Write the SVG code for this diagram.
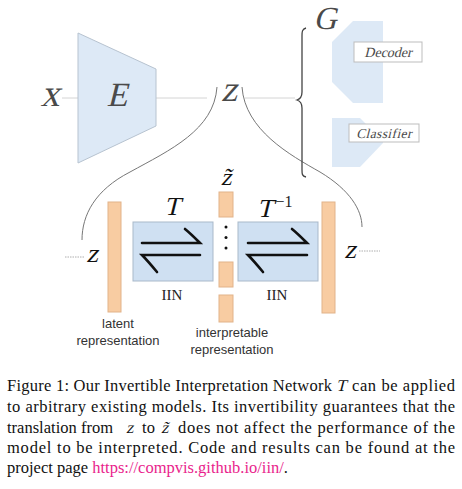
<svg xmlns="http://www.w3.org/2000/svg" width="462" height="489" viewBox="0 0 462 489">
<style>
.math{font-family:"Liberation Serif","Times New Roman",serif;fill:#4a4a4a;text-anchor:middle}
.mb{font-family:"Liberation Serif","Times New Roman",serif;fill:#111;text-anchor:middle}
.rm{font-family:"Liberation Serif","Times New Roman",serif;fill:#222}
.sans{font-family:"Liberation Sans",Arial,sans-serif;font-size:13px;fill:#333;text-anchor:middle}
.cap{font-family:"Liberation Serif","Times New Roman",serif;font-size:16.5px;fill:#111}
.enc{fill:#dde9f6;stroke:#b7c3d0;stroke-width:1}
.head{fill:#dde9f6}
.lbl{fill:#fff;stroke:#bdbdbd;stroke-width:1}
.iin{fill:#cfe0f2;stroke:#a9b9ca;stroke-width:1}
.bar{fill:#f8cca2;stroke:#e2b38a;stroke-width:1}
.harp{fill:none;stroke:#111;stroke-width:2.6;stroke-linecap:round}
.conn{fill:none;stroke:#d4d4d4;stroke-width:1}
.curve{fill:none;stroke:#777;stroke-width:1}
.dot{fill:none;stroke:#999;stroke-width:0.8;stroke-dasharray:1.5 1}
</style>

<g id="connectors">
  <line class="conn" x1="62" y1="98" x2="78" y2="98"/>
  <line class="conn" x1="156" y1="98" x2="207" y2="98"/>
  <line class="conn" x1="245" y1="98" x2="295" y2="98"/>
  <path class="curve" d="M217,87 C214,130 170,150 130,172 C95,190 82,215 82,240"/>
  <path class="curve" d="M242,87 C245,130 290,155 320,172 C350,190 362,210 362,227"/>
  <line class="dot" x1="65" y1="257" x2="85" y2="257"/>
  <line class="dot" x1="359" y1="251" x2="380" y2="251"/>
</g>

<g id="x-input">
  <text class="math" transform="translate(50,106) skewX(-14)" font-size="38">x</text>
</g>

<g id="encoder">
  <polygon class="enc" points="78,33 156,69 156,126 78,163"/>
  <text class="math" transform="translate(117,106) skewX(-14)" font-size="34">E</text>
</g>

<g id="z-top">
  <text class="math" transform="translate(229,101) skewX(-14)" font-size="36">z</text>
</g>

<g id="G-brace">
  <path d="M306,28 C302,29 302,32 302,36 L302,92 C302,97 300,99 297,100 C300,101 302,103 302,108 L302,170 C302,174 302,176 306,177" fill="none" stroke="#444" stroke-width="1.3"/>
  <text class="math" transform="translate(325,29) skewX(-14)" font-size="32">G</text>
</g>

<g id="decoder">
  <polygon class="head" points="353,21 383,21 383,103 353,103 332,82 332,42"/>
  <rect class="lbl" x="354" y="42" width="68" height="20"/>
  <text class="math" transform="translate(388,57) skewX(-14)" font-size="14">Decoder</text>
</g>

<g id="classifier">
  <polygon class="head" points="332,118 360,118 383,141 383,143 360,167 332,167"/>
  <rect class="lbl" x="349" y="124" width="70" height="18"/>
  <text class="math" transform="translate(384,137.5) skewX(-14)" font-size="13.5" letter-spacing="0.4">Classifier</text>
</g>

<g id="z-left">
  <text class="mb" transform="translate(92,262) skewX(-14)" font-size="26">z</text>
</g>

<g id="latent-bar">
  <rect class="bar" x="108" y="202" width="13" height="110"/>
  <text class="sans" x="118" y="328">latent</text>
  <text class="sans" x="118" y="345">representation</text>
</g>

<g id="iin-T">
  <text class="mb" transform="translate(172,215) skewX(-14)" font-size="26">T</text>
  <rect class="iin" x="133" y="222" width="80" height="59"/>
  <path class="harp" d="M142,243 L200,243 C195,238 190,233 185,229"/>
  <path class="harp" d="M200,255 L142,255 C147,260 152,266 157,272"/>
  <text class="rm" x="172" y="300" font-size="15" text-anchor="middle">IIN</text>
</g>

<g id="interpretable-bar">
  <text class="mb" transform="translate(226,185) skewX(-14)" font-size="24">z̃</text>
  <rect class="bar" x="219" y="192" width="14" height="25"/>
  <circle cx="226" cy="227" r="1.5" fill="#111"/>
  <circle cx="226" cy="237.5" r="1.5" fill="#111"/>
  <circle cx="226" cy="248" r="1.5" fill="#111"/>
  <rect class="bar" x="219" y="262" width="14" height="25"/>
  <rect class="bar" x="219" y="295" width="14" height="27"/>
  <text class="sans" x="232" y="337">interpretable</text>
  <text class="sans" x="232" y="354">representation</text>
</g>

<g id="iin-Tinv">
  <text class="mb" transform="translate(265,217) skewX(-14)" font-size="26">T</text>
  <text class="rm" x="284" y="207" font-size="16" text-anchor="middle">−1</text>
  <rect class="iin" x="238" y="222" width="80" height="59"/>
  <path class="harp" d="M248,243 L307,243 C302,238 297,233 292,229"/>
  <path class="harp" d="M307,255 L248,255 C253,260 258,266 263,272"/>
  <text class="rm" x="277" y="300" font-size="15" text-anchor="middle">IIN</text>
</g>

<g id="latent-bar-right">
  <rect class="bar" x="322" y="202" width="13" height="111"/>
</g>

<g id="z-right">
  <text class="mb" transform="translate(350,258) skewX(-14)" font-size="26">z</text>
</g>

<g id="caption">
  <text class="cap" x="7" y="391" textLength="325" lengthAdjust="spacing">Figure 1: Our Invertible Interpretation Network</text>
  <text class="cap" transform="translate(336,391) skewX(-14)">T</text>
  <text class="cap" x="352" y="391" textLength="103" lengthAdjust="spacing">can be applied</text>
  <text class="cap" x="7" y="412" textLength="448" lengthAdjust="spacing">to arbitrary existing models.  Its invertibility guarantees that the</text>
  <text class="cap" x="7" y="433" textLength="106" lengthAdjust="spacing">translation from</text>
  <text class="cap" transform="translate(126,433) skewX(-14)">z</text>
  <text class="cap" x="142" y="433" textLength="13" lengthAdjust="spacing">to</text>
  <text class="cap" transform="translate(161,433) skewX(-14)">z̃</text>
  <text class="cap" x="178" y="433" textLength="277" lengthAdjust="spacing">does not affect the performance of the</text>
  <text class="cap" x="7" y="453" textLength="448" lengthAdjust="spacing">model to be interpreted.  Code and results can be found at the</text>
  <text class="cap" x="7" y="473">project page <tspan fill="#e91e8c">https://compvis.github.io/iin/</tspan>.</text>
</g>
</svg>
